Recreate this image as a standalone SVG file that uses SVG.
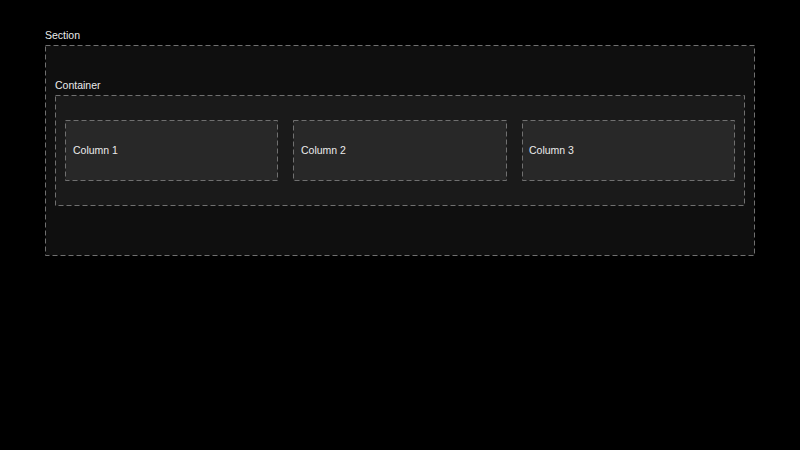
<svg xmlns="http://www.w3.org/2000/svg" width="800" height="450" viewBox="0 0 800 450">
<style>
.box{stroke:#707070;stroke-width:1;stroke-dasharray:5 3}
.lbl{font-family:"Liberation Sans",Arial,sans-serif;font-size:10.5px;fill:#ebebeb}
</style>
<rect width="800" height="450" fill="#000"/>
<g id="section">
<text class="lbl" x="45" y="39">Section</text>
<rect class="box" x="45.5" y="45.5" width="709" height="210" fill="#0f0f0f"/>
</g>
<g id="container">
<text class="lbl" x="55" y="89">Container</text>
<rect class="box" x="55.5" y="95.5" width="689" height="110" fill="#1a1a1a"/>
</g>
<g id="column1">
<rect class="box" x="65.5" y="120.5" width="212" height="60" fill="#282828"/>
<text class="lbl" x="73" y="154">Column 1</text>
</g>
<g id="column2">
<rect class="box" x="293.5" y="120.5" width="213" height="60" fill="#282828"/>
<text class="lbl" x="301" y="154">Column 2</text>
</g>
<g id="column3">
<rect class="box" x="522.5" y="120.5" width="212" height="60" fill="#282828"/>
<text class="lbl" x="529" y="154">Column 3</text>
</g>
<g id="connectors"></g>
</svg>
